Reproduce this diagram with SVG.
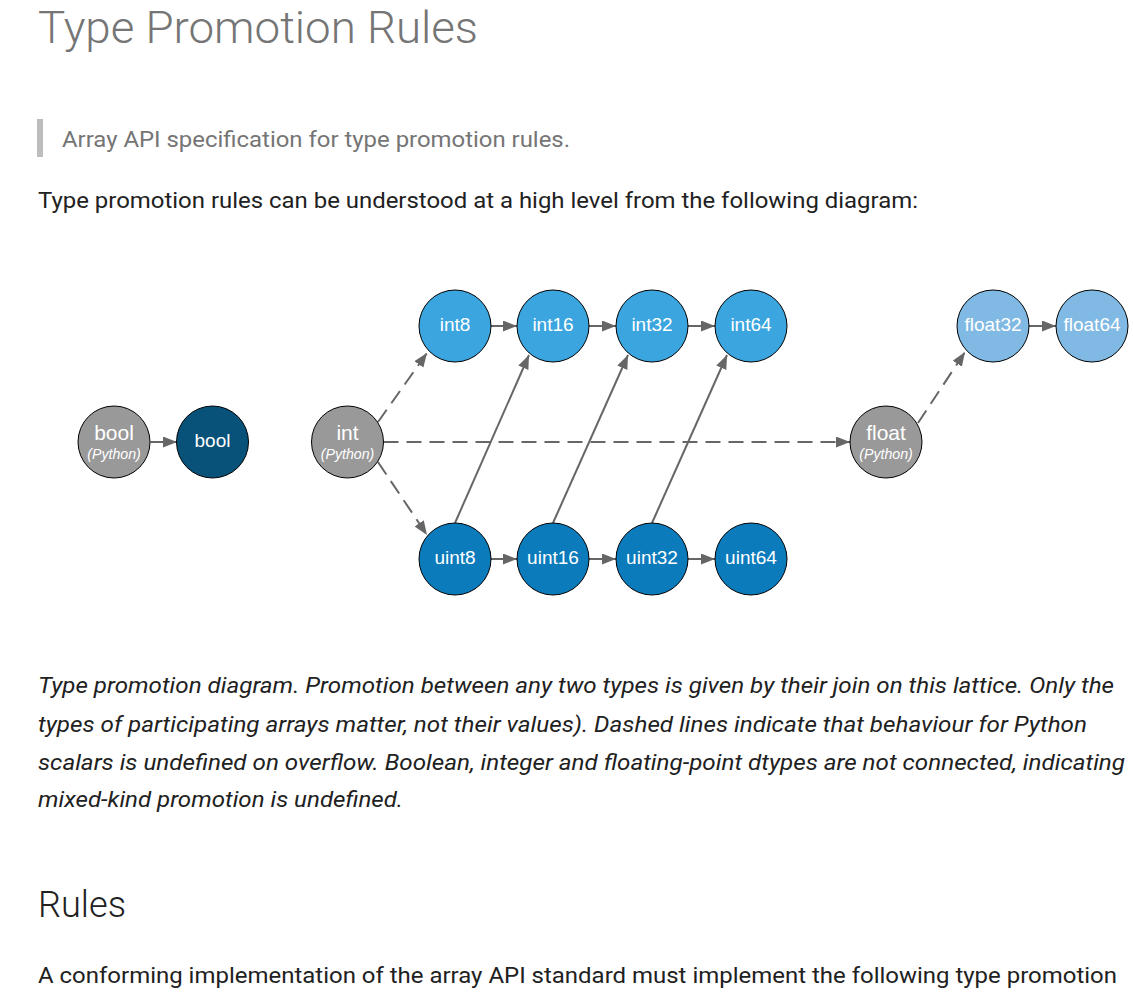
<svg xmlns="http://www.w3.org/2000/svg" width="1133" height="996" viewBox="0 0 1133 996">
<style>
.bg{fill:#ffffff}
.title{font-family:Roboto,"Liberation Sans",sans-serif;font-weight:300;fill:#757575}
.quote{font-family:Roboto,"Liberation Sans",sans-serif;font-size:22px;fill:#757575}
.body{font-family:Roboto,"Liberation Sans",sans-serif;font-size:22px;fill:#212121}
.cap{font-family:Roboto,"Liberation Sans",sans-serif;font-size:22px;font-style:italic;fill:#212121}
.node circle{stroke:#000000;stroke-width:1}
.py circle{fill:#999999}
.dbool circle{fill:#08527a}
.sint circle{fill:#3aa5de}
.uint circle{fill:#0b7bbc}
.flt circle{fill:#80b9e3}
.lbl{font-family:"Liberation Sans",Arial,sans-serif;font-size:19px;fill:#ffffff;text-anchor:middle}
.lbl2{font-family:"Liberation Sans",Arial,sans-serif;font-size:21px;fill:#ffffff;text-anchor:middle}
.sub{font-family:"Liberation Sans",Arial,sans-serif;font-size:14.2px;font-style:italic;fill:#ffffff;text-anchor:middle}
.edge{stroke:#666666;stroke-width:2;fill:none}
.dash{stroke-dasharray:15,8}
</style>
<defs>
<marker id="arr" markerUnits="userSpaceOnUse" markerWidth="16" markerHeight="12" refX="14" refY="5.5" orient="auto">
<path d="M0,0 L14,5.5 L0,11 z" fill="#666666" stroke="none"/>
</marker>
</defs>
<rect class="bg" x="0" y="0" width="1133" height="996"/>

<text class="title" x="38" y="43" font-size="44" textLength="440" lengthAdjust="spacingAndGlyphs">Type Promotion Rules</text>
<rect x="37" y="119" width="6" height="38" fill="#bdbdbd"/>
<text class="quote" x="62" y="147" textLength="508" lengthAdjust="spacingAndGlyphs">Array API specification for type promotion rules.</text>
<text class="body" x="38" y="208" textLength="880" lengthAdjust="spacingAndGlyphs">Type promotion rules can be understood at a high level from the following diagram:</text>

<g id="connectors">
<line class="edge" x1="150.5" y1="442" x2="177" y2="442" marker-end="url(#arr)"/>
<line class="edge" x1="491" y1="326" x2="517" y2="326" marker-end="url(#arr)"/>
<line class="edge" x1="589" y1="326" x2="616" y2="326" marker-end="url(#arr)"/>
<line class="edge" x1="688" y1="326" x2="715" y2="326" marker-end="url(#arr)"/>
<line class="edge" x1="491" y1="559" x2="517" y2="559" marker-end="url(#arr)"/>
<line class="edge" x1="589" y1="559" x2="616" y2="559" marker-end="url(#arr)"/>
<line class="edge" x1="688" y1="559" x2="715" y2="559" marker-end="url(#arr)"/>
<line class="edge" x1="1029" y1="326" x2="1056" y2="326" marker-end="url(#arr)"/>
<line class="edge" x1="455" y1="523" x2="529" y2="355" marker-end="url(#arr)"/>
<line class="edge" x1="553" y1="523" x2="628" y2="355" marker-end="url(#arr)"/>
<line class="edge" x1="652" y1="523" x2="727" y2="355" marker-end="url(#arr)"/>
<line class="edge dash" x1="378" y1="422" x2="427" y2="353" marker-end="url(#arr)"/>
<line class="edge dash" x1="378" y1="462" x2="427" y2="535" marker-end="url(#arr)"/>
<line class="edge dash" x1="383.5" y1="442" x2="850" y2="442" marker-end="url(#arr)"/>
<line class="edge dash" x1="918" y1="423" x2="965" y2="352" marker-end="url(#arr)"/>
</g>

<g id="node-bool-py" class="node py"><circle cx="114" cy="442" r="36"/><text class="lbl2" x="114" y="440">bool</text><text class="sub" x="114" y="458.5">(Python)</text></g>
<g id="node-bool" class="node dbool"><circle cx="212.5" cy="442" r="36"/><text class="lbl" x="212.5" y="446.5">bool</text></g>
<g id="node-int-py" class="node py"><circle cx="347.5" cy="442" r="36"/><text class="lbl2" x="347.5" y="440">int</text><text class="sub" x="347.5" y="458.5">(Python)</text></g>
<g id="node-float-py" class="node py"><circle cx="886" cy="442" r="36"/><text class="lbl2" x="886" y="440">float</text><text class="sub" x="886" y="458.5">(Python)</text></g>

<g id="node-int8" class="node sint"><circle cx="455" cy="326" r="36"/><text class="lbl" x="455" y="330.5">int8</text></g>
<g id="node-int16" class="node sint"><circle cx="553" cy="326" r="36"/><text class="lbl" x="553" y="330.5">int16</text></g>
<g id="node-int32" class="node sint"><circle cx="652" cy="326" r="36"/><text class="lbl" x="652" y="330.5">int32</text></g>
<g id="node-int64" class="node sint"><circle cx="751" cy="326" r="36"/><text class="lbl" x="751" y="330.5">int64</text></g>

<g id="node-uint8" class="node uint"><circle cx="455" cy="559" r="36"/><text class="lbl" x="455" y="563.5">uint8</text></g>
<g id="node-uint16" class="node uint"><circle cx="553" cy="559" r="36"/><text class="lbl" x="553" y="563.5">uint16</text></g>
<g id="node-uint32" class="node uint"><circle cx="652" cy="559" r="36"/><text class="lbl" x="652" y="563.5">uint32</text></g>
<g id="node-uint64" class="node uint"><circle cx="751" cy="559" r="36"/><text class="lbl" x="751" y="563.5">uint64</text></g>

<g id="node-float32" class="node flt"><circle cx="993" cy="326" r="36"/><text class="lbl" x="993" y="330.5">float32</text></g>
<g id="node-float64" class="node flt"><circle cx="1092" cy="326" r="36"/><text class="lbl" x="1092" y="330.5">float64</text></g>

<text class="cap" x="38" y="693" textLength="1076" lengthAdjust="spacingAndGlyphs">Type promotion diagram. Promotion between any two types is given by their join on this lattice. Only the</text>
<text class="cap" x="38" y="732" textLength="1049" lengthAdjust="spacingAndGlyphs">types of participating arrays matter, not their values). Dashed lines indicate that behaviour for Python</text>
<text class="cap" x="38" y="770" textLength="1087" lengthAdjust="spacingAndGlyphs">scalars is undefined on overflow. Boolean, integer and floating-point dtypes are not connected, indicating</text>
<text class="cap" x="38" y="807" textLength="365" lengthAdjust="spacingAndGlyphs">mixed-kind promotion is undefined.</text>

<text class="title" x="38" y="917" font-size="36" style="fill:#212121" textLength="88" lengthAdjust="spacingAndGlyphs">Rules</text>
<text class="body" x="38" y="983" textLength="1079" lengthAdjust="spacingAndGlyphs">A conforming implementation of the array API standard must implement the following type promotion</text>
</svg>
